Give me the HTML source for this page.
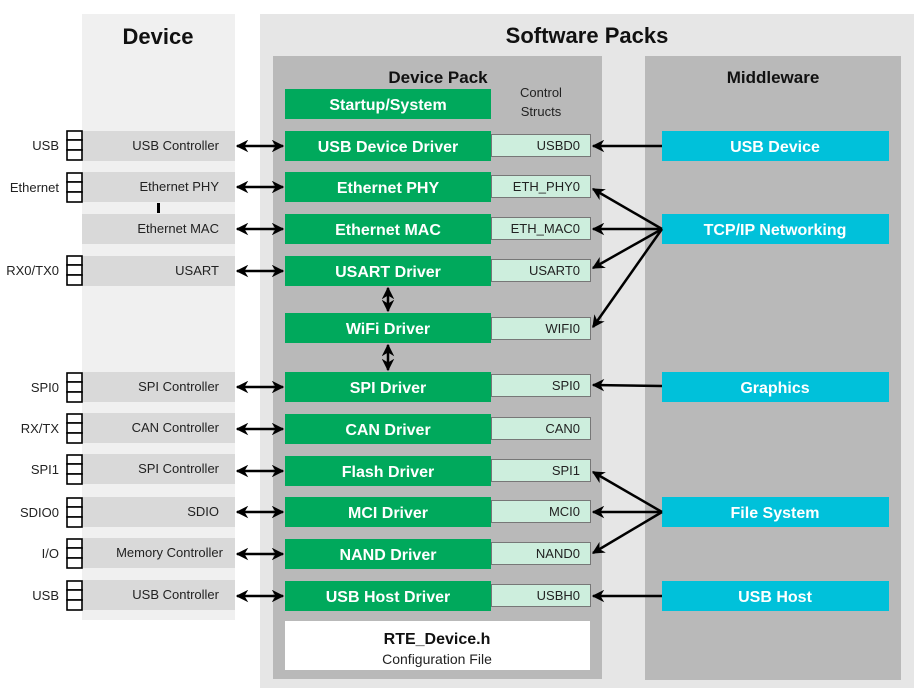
<!DOCTYPE html>
<html><head><meta charset="utf-8"><style>
html,body{margin:0;padding:0;background:#fff;}
svg{display:block;}
text{font-family:"Liberation Sans",sans-serif;}
</style></head><body>
<svg width="914" height="688" viewBox="0 0 914 688" xmlns="http://www.w3.org/2000/svg">
<defs>
<marker id="a" viewBox="0 0 10 10" refX="9" refY="5" markerWidth="5" markerHeight="5" orient="auto-start-reverse"><path d="M0,0 L10,5 L0,10 L3,5 z" fill="#000"/></marker>
</defs>
<rect x="82" y="14" width="153" height="606" fill="#f0f0f0"/>
<rect x="260" y="14" width="654" height="674" fill="#e6e6e6"/>
<rect x="273" y="56" width="329" height="623" fill="#b9b9b9"/>
<rect x="645" y="56" width="256" height="624" fill="#b9b9b9"/>
<g font-weight="bold" text-anchor="middle" fill="#111">
<text x="158" y="44" font-size="22">Device</text>
<text x="587" y="43" font-size="22">Software Packs</text>
<text x="438" y="83" font-size="17">Device Pack</text>
<text x="773" y="83" font-size="17">Middleware</text>
</g>
<text x="541" y="97" font-size="13" text-anchor="middle" fill="#222">Control</text>
<text x="541" y="116" font-size="13" text-anchor="middle" fill="#222">Structs</text>
<rect x="285" y="89" width="206" height="30" fill="#00a95c"/>
<text x="388" y="110" font-size="16" font-weight="bold" fill="#fff" text-anchor="middle">Startup/System</text>

<g id="dev" font-size="13" fill="#222">
<!-- device rows -->
<rect x="82" y="131" width="153" height="30" fill="#d9d9d9"/><text x="219" y="150" text-anchor="end">USB  Controller</text>
<rect x="82" y="172" width="153" height="30" fill="#d9d9d9"/><text x="219" y="191" text-anchor="end">Ethernet  PHY</text>
<rect x="82" y="214" width="153" height="30" fill="#d9d9d9"/><text x="219" y="233" text-anchor="end">Ethernet  MAC</text>
<rect x="82" y="256" width="153" height="30" fill="#d9d9d9"/><text x="219" y="275" text-anchor="end">USART</text>
<rect x="82" y="372" width="153" height="30" fill="#d9d9d9"/><text x="219" y="391" text-anchor="end">SPI Controller</text>
<rect x="82" y="413" width="153" height="30" fill="#d9d9d9"/><text x="219" y="432" text-anchor="end">CAN Controller</text>
<rect x="82" y="454" width="153" height="30" fill="#d9d9d9"/><text x="219" y="473" text-anchor="end">SPI Controller</text>
<rect x="82" y="497" width="153" height="30" fill="#d9d9d9"/><text x="219" y="516" text-anchor="end">SDIO</text>
<rect x="82" y="538" width="153" height="30" fill="#d9d9d9"/><text x="223" y="557" text-anchor="end">Memory Controller</text>
<rect x="82" y="580" width="153" height="30" fill="#d9d9d9"/><text x="219" y="599" text-anchor="end">USB  Controller</text>
<rect x="157" y="203" width="3" height="10" fill="#000"/>
<!-- connector labels -->
<text x="59" y="150" text-anchor="end">USB</text>
<text x="59" y="192" text-anchor="end">Ethernet</text>
<text x="59" y="275" text-anchor="end">RX0/TX0</text>
<text x="59" y="392" text-anchor="end">SPI0</text>
<text x="59" y="433" text-anchor="end">RX/TX</text>
<text x="59" y="474" text-anchor="end">SPI1</text>
<text x="59" y="517" text-anchor="end">SDIO0</text>
<text x="59" y="558" text-anchor="end">I/O</text>
<text x="59" y="600" text-anchor="end">USB</text>
</g>
<g fill="#fff" stroke="#000" stroke-width="1.6">
<g id="c"><rect x="67" y="131" width="15" height="9"/><rect x="67" y="140" width="15" height="10"/><rect x="67" y="150" width="15" height="10"/></g>
<use href="#c" y="42"/><use href="#c" y="125"/><use href="#c" y="242"/><use href="#c" y="283"/><use href="#c" y="324"/><use href="#c" y="367"/><use href="#c" y="408"/><use href="#c" y="450"/>
</g>

<!-- green drivers -->
<g fill="#00a95c">
<rect x="285" y="131" width="206" height="30"/><rect x="285" y="172" width="206" height="30"/><rect x="285" y="214" width="206" height="30"/><rect x="285" y="256" width="206" height="30"/><rect x="285" y="313" width="206" height="30"/><rect x="285" y="372" width="206" height="30"/><rect x="285" y="414" width="206" height="30"/><rect x="285" y="456" width="206" height="30"/><rect x="285" y="497" width="206" height="30"/><rect x="285" y="539" width="206" height="30"/><rect x="285" y="581" width="206" height="30"/>
</g>
<g font-size="16" font-weight="bold" fill="#fff" text-anchor="middle">
<text x="388" y="152">USB Device Driver</text><text x="388" y="193">Ethernet PHY</text><text x="388" y="235">Ethernet MAC</text><text x="388" y="277">USART Driver</text><text x="388" y="334">WiFi Driver</text><text x="388" y="393">SPI Driver</text><text x="388" y="435">CAN Driver</text><text x="388" y="477">Flash Driver</text><text x="388" y="518">MCI Driver</text><text x="388" y="560">NAND Driver</text><text x="388" y="602">USB Host Driver</text>
</g>
<!-- structs -->
<g fill="#cdeedd" stroke="#777" stroke-width="1">
<rect x="491.5" y="134.5" width="99" height="22"/><rect x="491.5" y="175.5" width="99" height="22"/><rect x="491.5" y="217.5" width="99" height="22"/><rect x="491.5" y="259.5" width="99" height="22"/><rect x="491.5" y="317.5" width="99" height="22"/><rect x="491.5" y="374.5" width="99" height="22"/><rect x="491.5" y="417.5" width="99" height="22"/><rect x="491.5" y="459.5" width="99" height="22"/><rect x="491.5" y="500.5" width="99" height="22"/><rect x="491.5" y="542.5" width="99" height="22"/><rect x="491.5" y="584.5" width="99" height="22"/>
</g>
<g font-size="13" fill="#222" text-anchor="end">
<text x="580" y="150">USBD0</text><text x="580" y="191">ETH_PHY0</text><text x="580" y="233">ETH_MAC0</text><text x="580" y="275">USART0</text><text x="580" y="333">WIFI0</text><text x="580" y="390">SPI0</text><text x="580" y="433">CAN0</text><text x="580" y="475">SPI1</text><text x="580" y="516">MCI0</text><text x="580" y="558">NAND0</text><text x="580" y="600">USBH0</text>
</g>
<rect x="285" y="621" width="305" height="49" fill="#fff"/>
<text x="437" y="644" font-size="16" font-weight="bold" text-anchor="middle" fill="#111">RTE_Device.h</text>
<text x="437" y="664" font-size="14" text-anchor="middle" fill="#222">Configuration File</text>

<!-- middleware -->
<g fill="#00c1da">
<rect x="662" y="131" width="227" height="30"/><rect x="662" y="214" width="227" height="30"/><rect x="662" y="372" width="227" height="30"/><rect x="662" y="497" width="227" height="30"/><rect x="662" y="581" width="227" height="30"/>
</g>
<g font-size="16" font-weight="bold" fill="#fff" text-anchor="middle">
<text x="775" y="152">USB Device</text><text x="775" y="235">TCP/IP Networking</text><text x="775" y="393">Graphics</text><text x="775" y="518">File System</text><text x="775" y="602">USB Host</text>
</g>

<!-- arrows -->
<g stroke="#000" stroke-width="2.5" fill="none" marker-start="url(#a)" marker-end="url(#a)">
<line x1="237" y1="146" x2="283" y2="146"/><line x1="237" y1="187" x2="283" y2="187"/><line x1="237" y1="229" x2="283" y2="229"/><line x1="237" y1="271" x2="283" y2="271"/><line x1="237" y1="387" x2="283" y2="387"/><line x1="237" y1="429" x2="283" y2="429"/><line x1="237" y1="471" x2="283" y2="471"/><line x1="237" y1="512" x2="283" y2="512"/><line x1="237" y1="554" x2="283" y2="554"/><line x1="237" y1="596" x2="283" y2="596"/>
<line x1="388" y1="288" x2="388" y2="311"/><line x1="388" y1="345" x2="388" y2="370"/>
</g>
<g stroke="#000" stroke-width="2.5" fill="none" marker-end="url(#a)">
<line x1="662" y1="146" x2="593" y2="146"/>
<line x1="662" y1="229" x2="593" y2="189"/><line x1="662" y1="229" x2="593" y2="229"/><line x1="662" y1="229" x2="593" y2="268"/><line x1="662" y1="229" x2="593" y2="327"/>
<line x1="662" y1="386" x2="593" y2="385"/>
<line x1="662" y1="512" x2="593" y2="472"/><line x1="662" y1="512" x2="593" y2="512"/><line x1="662" y1="512" x2="593" y2="553"/>
<line x1="662" y1="596" x2="593" y2="596"/>
</g>
</svg>
</body></html>
